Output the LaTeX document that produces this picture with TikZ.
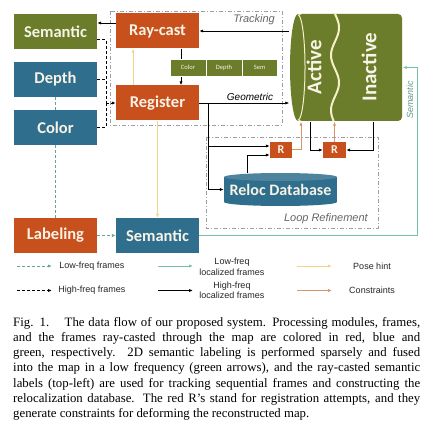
\documentclass[tikz,border=0pt]{standalone}
\usepackage{fontspec}
\setmainfont{Liberation Serif}
\newfontfamily\carl{Carlito}
\newfontfamily\arialf{Liberation Sans}
\usetikzlibrary{arrows.meta,calc}
\definecolor{olivec}{HTML}{6B7C2B}
\definecolor{bluec}{HTML}{2F6E8C}
\definecolor{redc}{HTML}{C8501C}
\definecolor{tealc}{HTML}{74C2A6}
\definecolor{yellowc}{HTML}{EED58A}
\definecolor{constrc}{HTML}{D8946A}
\definecolor{creamc}{HTML}{F4F0C8}
\definecolor{txtc}{HTML}{F7F3E6}
\tikzset{
  x=1pt, y=-1pt,
  modbox/.style={rectangle, minimum width=83pt, minimum height=35pt, inner sep=0pt,
     text=txtc, font=\carl\bfseries\fontsize{16.5}{16.5}\selectfont},
  gbox/.style={modbox, fill=olivec},
  bbox/.style={modbox, fill=bluec},
  rbox/.style={modbox, fill=redc},
  smallbox/.style={rectangle, minimum height=17pt, inner sep=0pt, fill=olivec, draw=white, line width=0.6pt,
     text=txtc, font=\carl\fontsize{6.5}{6.5}\selectfont},
  rsq/.style={rectangle, minimum width=22pt, minimum height=16pt, inner sep=0pt, fill=redc,
     text=txtc, font=\carl\bfseries\fontsize{12}{12}\selectfont},
  tip/.style={-{Latex[length=4pt,width=3.2pt]}},
  karr/.style={tip, draw=black, line width=0.8pt},
  kdash/.style={draw=black, line width=0.8pt, dash pattern=on 3pt off 2pt},
  kdarr/.style={kdash, tip},
  tarr/.style={tip, draw=tealc, line width=1pt},
  tdash/.style={draw=tealc!85!black, line width=0.8pt, dash pattern=on 3pt off 2pt},
  tdarr/.style={tdash, tip},
  yarr/.style={tip, draw=yellowc, line width=1pt},
  carr/.style={tip, draw=constrc, line width=1pt},
  region/.style={draw=gray!75, line width=0.6pt, dash pattern=on 4pt off 2pt on 1pt off 2pt},
  italab/.style={font=\arialf\itshape\fontsize{11}{11}\selectfont, text=gray!80!black, inner sep=0pt},
  legtxt/.style={font=\arialf\fontsize{9}{10.5}\selectfont, text=black!85, inner sep=0pt, align=center}
}
\begin{document}
\begin{tikzpicture}
\useasboundingbox (0,0) rectangle (443,435);
\fill[white] (0,0) rectangle (443,435);

% dashed regions
\draw[region] (110,11) rectangle (282,125);
\draw[region] (206,137) rectangle (378,228);
\node[italab, anchor=east] (tracklab) at (275,20) {Tracking};
\node[italab, anchor=east] (looplab) at (368,219) {Loop Refinement};

% cylinder (map)
\fill[olivec, rounded corners=4pt] (298,14) rectangle (402,121);
\fill[olivec] (298,67.5) ellipse [x radius=8, y radius=53.5];
\draw[creamc, line width=1pt] plot[domain=-90:90, samples=40] ({298+7*cos(\x)},{67.5+52.5*sin(\x)});
\draw[creamc, line width=2pt] plot[domain=0:107, samples=60] ({335+4*sin(\x*6.545)},{\x+14});
\node[inner sep=0pt, minimum width=113pt, minimum height=108pt] (cyl) at (346,67.5) {};
\node[rotate=90, text=txtc, font=\carl\bfseries\fontsize{21}{21}\selectfont] (active) at (314,67) {Active};
\node[rotate=90, text=txtc, font=\carl\bfseries\fontsize{21}{21}\selectfont] (inactive) at (369,67) {Inactive};

% reloc database
\fill[bluec] (224,177) rectangle (337,202);
\fill[bluec] (280.5,202) ellipse [x radius=56.5, y radius=4];
\fill[bluec!85!white] (280.5,177) ellipse [x radius=56.5, y radius=4];
\node[inner sep=0pt, minimum width=113pt, minimum height=33pt, text=txtc,
  font=\carl\bfseries\fontsize{16}{16}\selectfont] (db) at (280.5,189.5) {Reloc Database};

% modules
\node[gbox] (sem1) at (55.5,31.5) {Semantic};
\node[bbox] (depth) at (55.5,79.5) {Depth};
\node[bbox] (color) at (55.5,127.5) {Color};
\node[rbox] (label) at (55.5,235.5) {Labeling};
\node[rbox] (ray) at (157.5,31) {Ray-cast};
\node[rbox] (reg) at (157.5,103) {Register};
\node[bbox] (sem2) at (157.5,235.5) {Semantic};

\node[rsq] (r1) at (281,150) {R};
\node[rsq, minimum width=23pt] (r2) at (334.5,150) {R};

% connectors
\draw[karr] ([xshift=23.5pt]ray.south) -- ([xshift=23.5pt]reg.north);
\node[smallbox, minimum width=36pt] (sc) at (188,67.5) {Color};
\node[smallbox, minimum width=36pt] (sd) at (224,67.5) {Depth};
\node[smallbox, minimum width=35pt] (ss) at (259.5,67.5) {Sem};

\draw[karr] (cyl.west |- ray.east) -- (ray.east);
\coordinate (rt) at ([yshift=8pt]ray.west);
\draw[karr] (rt) -- (rt -| sem1.east);
\draw[yarr] ([xshift=-24.5pt]reg.north) -- ([xshift=-24.5pt]ray.south);
\draw[karr] (reg.east) -- (reg.east -| cyl.west);
\node[font=\arialf\itshape\fontsize{10}{10}\selectfont, inner sep=0pt] (geolab) at (250,97) {Geometric};
\coordinate (jn) at (208,103);
\draw[karr] (jn) |- (db.west);
\draw[karr] (jn |- 0,146) -- (r1.west |- 0,146);
\coordinate (dbt) at ([xshift=24pt]db.north west);
\draw[karr] (dbt) |- ([yshift=-5pt]r1.west);
\draw[karr] ([xshift=-36pt]cyl.south) |- (r2.west);
\draw[karr] ([xshift=27pt]cyl.south) |- (r2.east);
\draw[carr] (r1.east) -| ([xshift=-45pt]cyl.south);
\draw[carr] (r2.north) -- (r2.north |- cyl.south);
\draw[yarr] (reg.south) -- (sem2.north);
\draw[tarr] (sem2.east) -| ([xshift=15pt]cyl.east) -- (cyl.east);
\node[rotate=90, font=\arialf\itshape\fontsize{9}{9}\selectfont, text=tealc!80!black, inner sep=0pt] (semlab) at (410,100) {Semantic};

% input dashed lines
\coordinate (dv) at (106,103);
\draw[kdash] ([yshift=-8pt]sem1.east) -| (dv);
\draw[kdash] (color.east) -| (dv);
\draw[kdash] (depth.east) -- (depth.east -| dv);
\draw[kdarr] (dv) -- (reg.west);
\draw[tdash] (depth.south) -- (color.north);
\draw[tdash] (color.south) -- (label.north);
\draw[tdarr] (label.east) -- (sem2.west);

% legend
\coordinate (l1a) at (17,266); \coordinate (l1b) at (52,266);
\draw[tdarr] (l1a) -- (l1b);
\node[legtxt] (lt1) at (92,266) {Low-freq frames};
\coordinate (l2a) at (158,266); \coordinate (l2b) at (193,266);
\draw[tarr] (l2a) -- (l2b);
\node[legtxt] (lt2) at (232,267) {Low-freq\\localized frames};
\coordinate (l3a) at (297,266); \coordinate (l3b) at (332,266);
\draw[yarr] (l3a) -- (l3b);
\node[legtxt] (lt3) at (372,266) {Pose hint};
\coordinate (l4a) at (17,290.5); \coordinate (l4b) at (52,290.5);
\draw[kdarr] (l4a) -- (l4b);
\node[legtxt] (lt4) at (92,290.5) {High-freq frames};
\coordinate (l5a) at (158,290.5); \coordinate (l5b) at (193,290.5);
\draw[karr] (l5a) -- (l5b);
\node[legtxt] (lt5) at (232,290.5) {High-freq\\localized frames};
\coordinate (l6a) at (297,290.5); \coordinate (l6b) at (332,290.5);
\draw[carr] (l6a) -- (l6b);
\node[legtxt] (lt6) at (372,290.5) {Constraints};

% caption
\node[anchor=north west, inner sep=0pt, text width=407pt, align=justify,
  font=\fontsize{12.8}{15.2}\selectfont] (cap) at (13,317) {%
Fig. 1.\hspace{1.2em}The data flow of our proposed system. Processing modules, frames,\linebreak
and the frames ray-casted through the map are colored in red, blue and\linebreak
green, respectively. 2D semantic labeling is performed sparsely and fused\linebreak
into the map in a low frequency (green arrows), and the ray-casted semantic\linebreak
labels (top-left) are used for tracking sequential frames and constructing the\linebreak
relocalization database. The red R's stand for registration attempts, and they\linebreak
generate constraints for deforming the reconstructed map.};
\end{tikzpicture}
\end{document}
